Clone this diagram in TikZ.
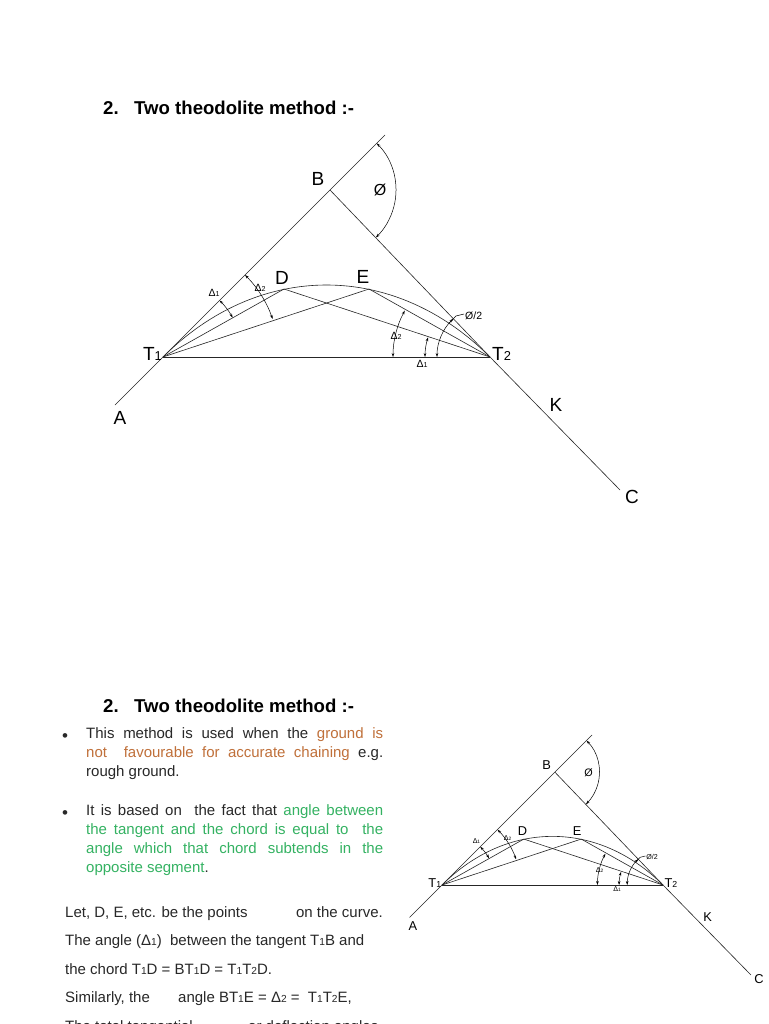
\documentclass[tikz,border=0pt]{standalone}
\usepackage{fontspec}
\setmainfont{Liberation Sans}
\usetikzlibrary{calc,arrows.meta}
\definecolor{brn}{RGB}{192,112,58}
\definecolor{grn}{RGB}{52,178,98}
\definecolor{txt}{RGB}{40,40,40}
\newcommand\lo[1]{{\fontsize{0.68em}{1em}\selectfont #1}}
\tikzset{
  ln/.style={line width=0.6pt, draw=black!85},
  angarr/.style={line width=0.5pt,{Stealth[length=4pt,width=2.6pt]}-{Stealth[length=4pt,width=2.6pt]}},
  lbl/.style={font=\fontsize{19}{19}\selectfont, inner sep=0pt},
  slbl/.style={font=\fontsize{10.5}{10.5}\selectfont, inner sep=0pt},
  body/.style={font=\fontsize{15}{19.3}\selectfont, text=txt, inner sep=0pt},
}
\newcommand\theodiagram{%
  \coordinate (T1) at (163,-357);
  \coordinate (T2) at (490,-357);
  \coordinate (B) at (330,-190);
  \coordinate (Bx) at (385,-135);
  \coordinate (A) at (115,-405);
  \coordinate (C) at (620,-490);
  \coordinate (D) at (284,-289);
  \coordinate (E) at (369,-289);
  \draw[ln] (A) -- (T1) -- (B) -- (Bx);
  \draw[ln] (B) -- (T2) -- (C);
  \draw[ln] (T1) .. controls (259,-261) and (394,-261) .. (T2);
  \draw[ln] (T1) -- (D) -- (T2);
  \draw[ln] (T1) -- (E) -- (T2);
  \draw[ln] (T1) -- (T2);
  \draw[angarr] ($(T1)+(45:80)$) arc[start angle=45,end angle=29.5,radius=80];
  \draw[angarr] ($(T1)+(45:116)$) arc[start angle=45,end angle=19.2,radius=116];
  \draw[angarr] ($(T2)+(180:97)$) arc[start angle=180,end angle=151.5,radius=97];
  \draw[angarr] ($(T2)+(180:65)$) arc[start angle=180,end angle=162.5,radius=65];
  \draw[angarr] ($(T2)+(180:53)$) arc[start angle=180,end angle=133.8,radius=53];
  \draw[angarr] ($(B)+(45:66)$) arc[start angle=45,end angle=-46,radius=66];
  \draw[line width=0.5pt] (464,-314) -- (456,-316) -- ($(T2)+(140:53)$);
  \node[lbl,anchor=base] (lB) at (318,-186) {B};
  \node[lbl,anchor=base] (lD) at (282,-284) {D};
  \node[lbl,anchor=base] (lE) at (363,-283) {E};
  \node[lbl,anchor=base east] (lT1) at (162,-360) {T\lo{1}};
  \node[lbl,anchor=base west] (lT2) at (492,-360) {T\lo{2}};
  \node[lbl,anchor=base] (lA) at (120,-424) {A};
  \node[lbl,anchor=base] (lK) at (556,-411) {K};
  \node[lbl,anchor=base] (lC) at (632,-503) {C};
  \node[lbl,anchor=base,font=\fontsize{16}{16}\selectfont] (lphi) at (380,-196) {Ø};
  \node[slbl,anchor=base] (d1a) at (214,-296) {Δ\lo{1}};
  \node[slbl,anchor=base] (d2a) at (260,-291) {Δ\lo{2}};
  \node[slbl,anchor=base] (d2b) at (396,-339) {Δ\lo{2}};
  \node[slbl,anchor=base] (d1b) at (422,-367) {Δ\lo{1}};
  \node[slbl,anchor=base west] (phh) at (465,-319) {Ø/2};
}
\begin{document}
\begin{tikzpicture}[x=1pt,y=1pt]
\useasboundingbox[fill=white] (0,0) rectangle (768,-1024);
\begin{scope}[name prefix=top-]
\theodiagram
\end{scope}
\begin{scope}[name prefix=bot-, shift={(331.8,-643.7)}, scale=0.676, transform shape]
\theodiagram
\end{scope}
\node[anchor=base west,inner sep=0pt,font=\fontsize{18.6}{18.6}\selectfont\bfseries] (t1) at (103,-115) {2.\ \ \ Two theodolite method :-};
\node[anchor=base west,inner sep=0pt,font=\fontsize{18.6}{18.6}\selectfont\bfseries] (t2) at (103,-712) {2.\ \ \ Two theodolite method :-};
\node[body,anchor=base west,font=\fontsize{17}{17}\selectfont] (b1) at (62,-741) {•};
\node[body,anchor=base west,font=\fontsize{17}{17}\selectfont] (b2) at (62,-818) {•};
\node[body,anchor=north west,text width=297pt,align=justify] (p1) at (86,-727) {This method is used when the \textcolor{brn}{ground is\linebreak not\ \ favourable for accurate chaining} e.g.\linebreak rough ground.};
\node[body,anchor=north west,text width=297pt,align=justify] (p2) at (86,-804) {It is based on\ \ the fact that \textcolor{grn}{angle between\linebreak the tangent and the chord is equal to\ \ the\linebreak angle which that chord subtends in the\linebreak opposite segment}.};
\node[body,anchor=base west] (l1) at (65,-917) {Let, D, E, etc. be the points};
\node[body,anchor=base east] (l1b) at (383,-917) {on the curve.};
\node[body,anchor=base west] (l2) at (65,-945) {The angle (Δ\lo{1})\ \ between the tangent T\lo{1}B and};
\node[body,anchor=base west] (l3) at (65,-974) {the chord T\lo{1}D = BT\lo{1}D = T\lo{1}T\lo{2}D.};
\node[body,anchor=base west] (l4) at (65,-1002) {Similarly, the};
\node[body,anchor=base west] (l4b) at (178,-1002) {angle BT\lo{1}E = Δ\lo{2} =\ \ T\lo{1}T\lo{2}E,};
\node[body,anchor=base west] (l5) at (65,-1031) {The total tangential};
\node[body,anchor=base west] (l5b) at (248,-1031) {or deflection angles};
\end{tikzpicture}
\end{document}
